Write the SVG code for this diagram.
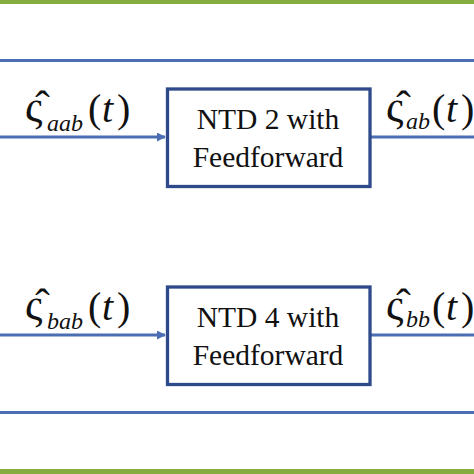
<svg xmlns="http://www.w3.org/2000/svg" width="474" height="474" viewBox="0 0 474 474">
<style>
.band{fill:#84AC3E}
.rule{stroke:#4A6DB3;stroke-width:3;fill:none}
.conn{stroke:#4A6DB3;stroke-width:3;fill:none}
.box{fill:#fff;stroke:#2F4A8A;stroke-width:3.3}
.lbl{font-family:"Liberation Serif","Times New Roman",serif;font-size:29.5px;fill:#111;text-anchor:middle}
.m{font-family:"Liberation Serif","Times New Roman",serif;fill:#111}
.sym{font-size:44px}
.sub{font-size:24px;font-style:italic}
.par{font-size:40px}
.it{font-size:40px;font-style:italic}
</style>
<defs>
<marker id="arr" viewBox="0 0 10 10" refX="9" refY="5" markerWidth="3.2" markerHeight="3" orient="auto" markerUnits="strokeWidth">
<path d="M0,0 L10,5 L0,10 Z" fill="#4A6DB3"/>
</marker>
</defs>
<rect width="474" height="474" fill="#fff"/>
<rect class="band" x="0" y="0" width="474" height="4"/>
<rect class="band" x="0" y="469" width="474" height="5"/>
<line class="rule" x1="0" y1="60.5" x2="474" y2="60.5"/>
<line class="rule" x1="0" y1="412.5" x2="474" y2="412.5"/>
<g id="connectors">
<line class="conn" x1="0" y1="137" x2="165" y2="137" marker-end="url(#arr)"/>
<line class="conn" x1="370" y1="137" x2="474" y2="137"/>
<line class="conn" x1="0" y1="335" x2="165" y2="335" marker-end="url(#arr)"/>
<line class="conn" x1="370" y1="335" x2="474" y2="335"/>
</g>
<g id="ntd2">
<rect class="box" x="167.5" y="89" width="202.5" height="97.5"/>
<text class="lbl" x="268" y="129">NTD 2 with</text>
<text class="lbl" x="268" y="167">Feedforward</text>
</g>
<g id="ntd4">
<rect class="box" x="167.5" y="287" width="202.5" height="97.5"/>
<text class="lbl" x="268" y="327">NTD 4 with</text>
<text class="lbl" x="268" y="365">Feedforward</text>
</g>
<g id="label-aab">
<text class="m sym" x="25" y="121">ς̂</text>
<text class="m sub" x="47" y="131">aab</text>
<text class="m par" x="88" y="122">(</text>
<text class="m it" x="102" y="122">t</text>
<text class="m par" x="117" y="122">)</text>
</g>
<g id="label-ab">
<text class="m sym" x="386" y="121">ς̂</text>
<text class="m sub" x="406" y="129">ab</text>
<text class="m par" x="432" y="122">(</text>
<text class="m it" x="446" y="122">t</text>
<text class="m par" x="461" y="122">)</text>
</g>
<g id="label-bab">
<text class="m sym" x="25" y="319">ς̂</text>
<text class="m sub" x="47" y="329">bab</text>
<text class="m par" x="88" y="320">(</text>
<text class="m it" x="102" y="320">t</text>
<text class="m par" x="117" y="320">)</text>
</g>
<g id="label-bb">
<text class="m sym" x="386" y="319">ς̂</text>
<text class="m sub" x="406" y="327">bb</text>
<text class="m par" x="432" y="320">(</text>
<text class="m it" x="446" y="320">t</text>
<text class="m par" x="461" y="320">)</text>
</g>
</svg>
